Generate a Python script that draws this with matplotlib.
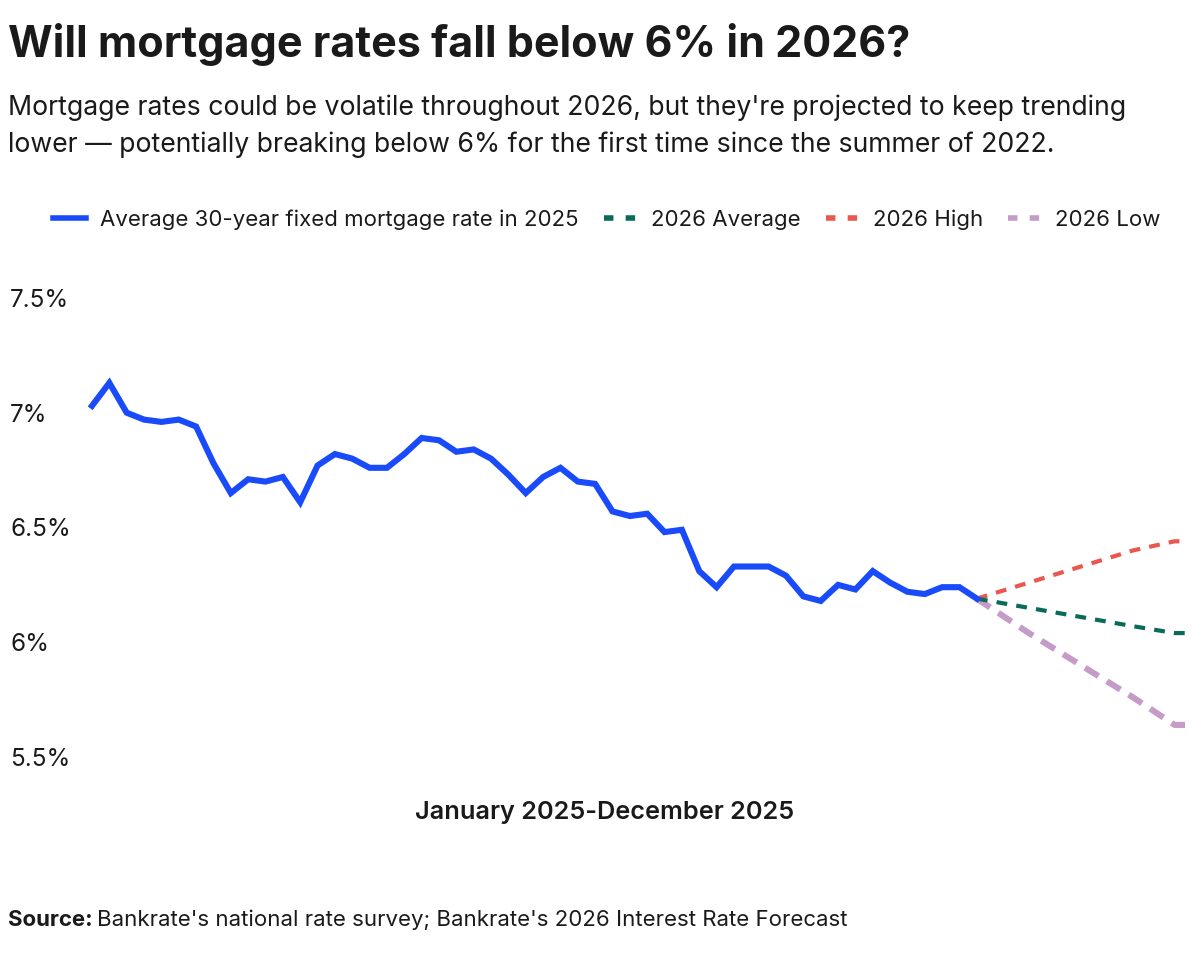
import matplotlib
matplotlib.use("Agg")
import matplotlib.pyplot as plt
from matplotlib.lines import Line2D

# ---- data ----
rates_2025 = [7.03, 7.13, 7.00, 6.97, 6.96, 6.97, 6.94, 6.78, 6.65, 6.71,
              6.70, 6.72, 6.61, 6.77, 6.82, 6.80, 6.76, 6.76, 6.82, 6.89,
              6.88, 6.83, 6.84, 6.80, 6.73, 6.65, 6.72, 6.76, 6.70, 6.69,
              6.57, 6.55, 6.56, 6.48, 6.49, 6.31, 6.24, 6.33, 6.33, 6.33,
              6.29, 6.20, 6.18, 6.25, 6.23, 6.31, 6.26, 6.22, 6.21, 6.24,
              6.24, 6.19]
forecast_x = [51, 54, 57, 60, 62.4, 63]
forecast_avg = [6.19, 6.15, 6.11, 6.07, 6.04, 6.04]
forecast_high = [6.19, 6.26, 6.33, 6.40, 6.44, 6.44]
forecast_low = [6.19, 6.04, 5.90, 5.76, 5.64, 5.64]
y_ticks = [5.5, 6.0, 6.5, 7.0, 7.5]
y_tick_labels = ["5.5%", "6%", "6.5%", "7%", "7.5%"]
legend_labels = ["Average 30-year fixed mortgage rate in 2025", "2026 Average",
                 "2026 High", "2026 Low"]

BLUE = "#1A4BFA"
GREEN = "#0A6B5A"
RED = "#E9574F"
PURPLE = "#C59BC8"
TXT = "#1a1a1a"

plt.rcParams['font.family'] = ['Inter', 'DejaVu Sans']

W, H = 1200, 967
fig = plt.figure(figsize=(W / 100, H / 100), dpi=100)
ax = fig.add_axes([80 / W, 1 - 780 / H, (1192 - 80) / W, (780 - 270) / H])

x_2025 = list(range(len(rates_2025)))
ax.plot(x_2025, rates_2025, color=BLUE, lw=4.4, solid_joinstyle='miter', zorder=4)
ax.plot(forecast_x, forecast_high, color=RED, lw=3.0, dashes=(2.6, 2.2), zorder=3)
ax.plot(forecast_x, forecast_avg, color=GREEN, lw=3.0, dashes=(2.6, 2.2), zorder=3)
ax.plot(forecast_x, forecast_low, color=PURPLE, lw=4.4, dashes=(2.6, 1.6), zorder=2)

ax.set_xlim(-12 / 17.35, (1192 - 92) / 17.35)
ax.set_ylim(5.5 - 23 / 230, 7.5 + 28 / 230)
ax.set_yticks(y_ticks)
ax.set_yticklabels(y_tick_labels)
ax.set_xticks([])
ax.tick_params(axis='y', length=0, pad=70 * 0.72, labelsize=17.5, labelcolor=TXT)
for lab in ax.get_yticklabels():
    lab.set_horizontalalignment('left')
for s in ax.spines.values():
    s.set_visible(False)

# titles
fig.text(8 / W, 1 - 45 / H, "Will mortgage rates fall below 6% in 2026?",
         fontsize=31, fontweight='bold', color=TXT, va='center', ha='left')
fig.text(8 / W, 1 - 108 / H,
         "Mortgage rates could be volatile throughout 2026, but they're projected to keep trending",
         fontsize=19.2, color=TXT, va='center', ha='left')
fig.text(8 / W, 1 - 145 / H,
         "lower \u2014 potentially breaking below 6% for the first time since the summer of 2022.",
         fontsize=19.2, color=TXT, va='center', ha='left')

# legend
handles = [
    Line2D([], [], color=BLUE, lw=4.0),
    Line2D([], [], color=GREEN, lw=4.0, dashes=(1.7, 2.2)),
    Line2D([], [], color=RED, lw=4.0, dashes=(1.7, 2.2)),
    Line2D([], [], color=PURPLE, lw=4.0, dashes=(1.7, 2.2)),
]
leg = fig.legend(handles, legend_labels, loc='center left', bbox_to_anchor=(53 / W, 1 - 220 / H),
                 ncol=4, frameon=False, fontsize=16, handlelength=1.49, handletextpad=0.63,
                 columnspacing=1.13, borderaxespad=0, borderpad=0)
for t in leg.get_texts():
    t.set_color(TXT)

fig.text(605 / W, 1 - 813 / H, "January 2025-December 2025", fontsize=18.2,
         fontweight='semibold', color=TXT, ha='center', va='center')

src = fig.text(8 / W, 1 - 920 / H, "Source:", fontsize=16, fontweight='bold', color=TXT,
               ha='left', va='center')
fig.canvas.draw()
bb = src.get_window_extent()
fig.text(bb.x1 / W + 4 / W, 1 - 920 / H,
         "Bankrate's national rate survey; Bankrate's 2026 Interest Rate Forecast",
         fontsize=16, color=TXT, ha='left', va='center')

fig.savefig("out.png", dpi=100, facecolor='white')
